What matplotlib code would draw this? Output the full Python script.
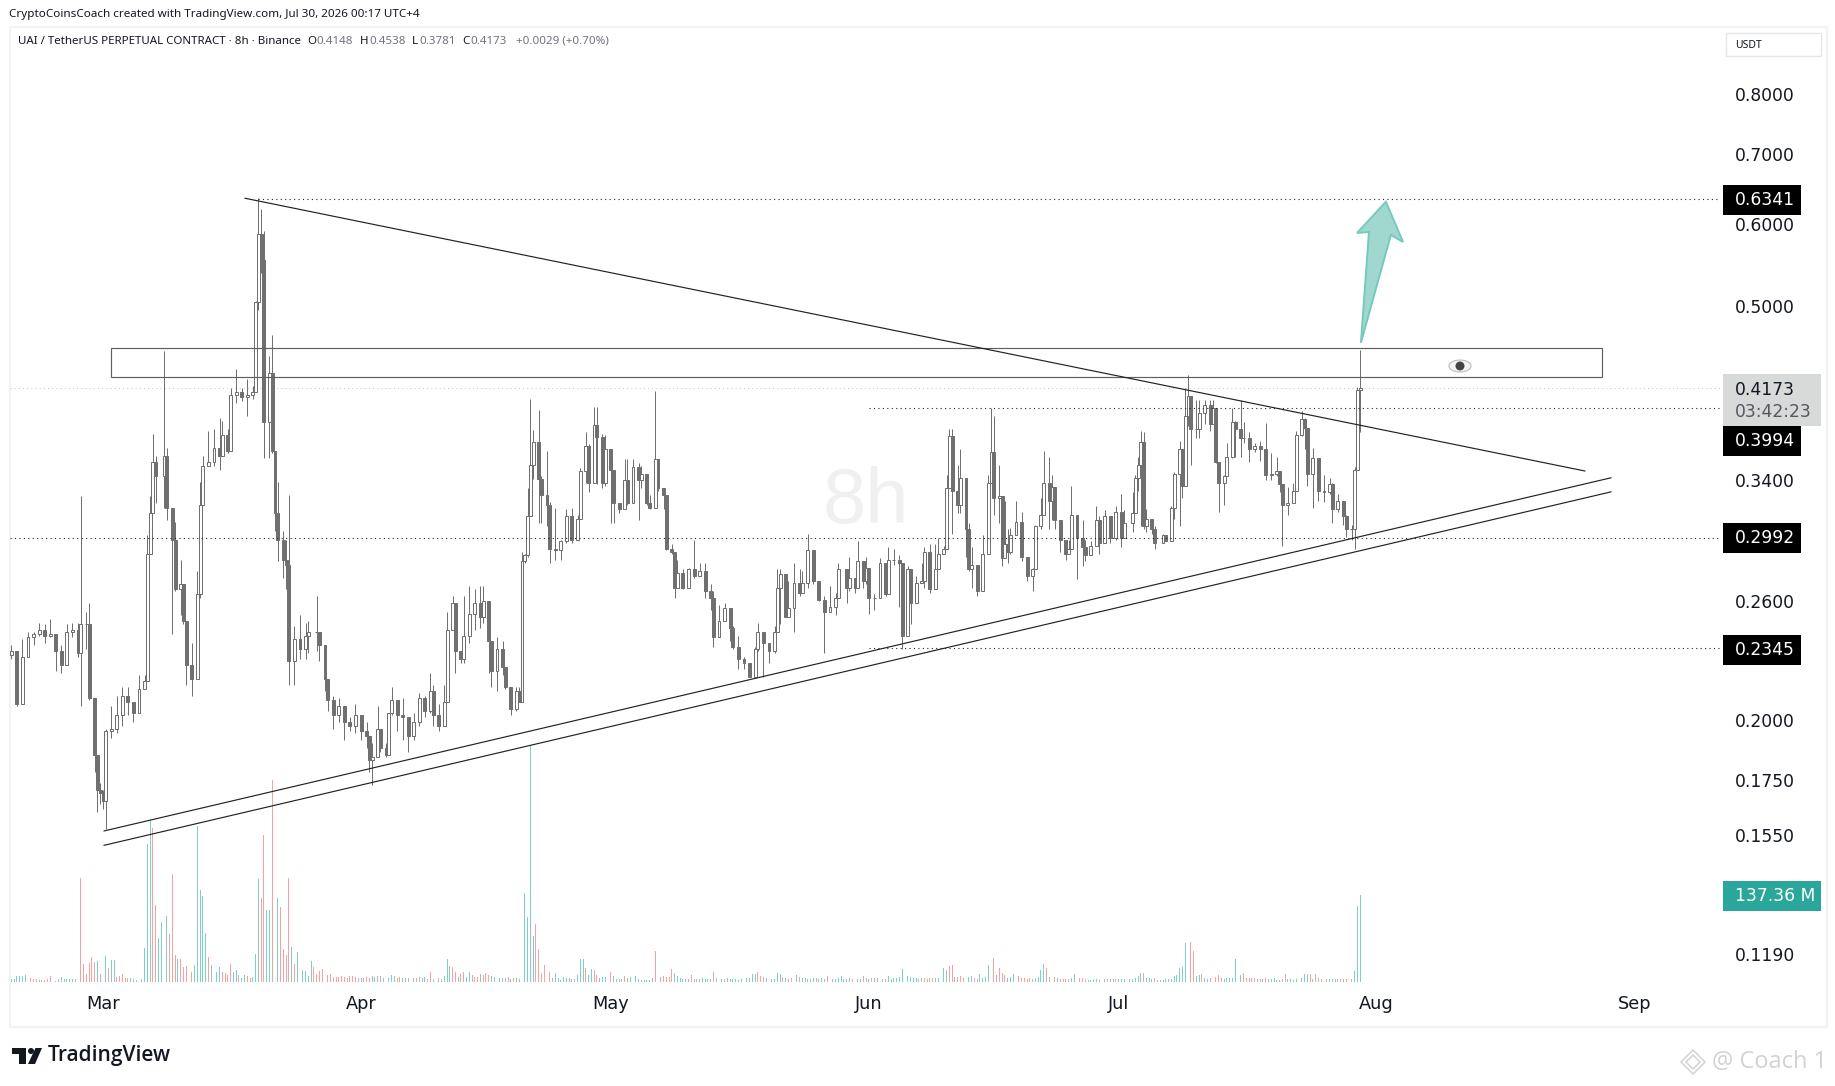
import numpy as np
import matplotlib
matplotlib.use("Agg")
import matplotlib.pyplot as plt
from matplotlib.patches import Rectangle, Polygon, Ellipse

# 8h bar number counted from 1 Mar (not every bar)
bar_no = [
    -33, -31, -29, -27, -25, -23, -21, -19, -17, -15,
    -13, -11, -9, -8, -6, -5, -3, -2, -1, 0,
    1, 3, 5, 7, 9, 11, 13, 15, 16, 17,
    18, 19, 22, 23, 25, 26, 28, 29, 30, 32,
    34, 35, 36, 38, 40, 42, 43, 45, 46, 48,
    50, 52, 54, 55, 56, 57, 58, 60, 61, 62,
    63, 65, 66, 67, 69, 71, 73, 74, 77, 78,
    80, 81, 83, 85, 87, 89, 91, 93, 95, 96,
    97, 99, 100, 102, 103, 104, 106, 108, 110, 112,
    114, 116, 118, 119, 121, 123, 124, 126, 127, 129,
    130, 132, 134, 136, 137, 139, 140, 142, 144, 145,
    147, 149, 150, 151, 152, 153, 154, 155, 157, 158,
    160, 161, 163, 165, 167, 169, 171, 172, 174, 175,
    177, 178, 180, 181, 183, 184, 186, 188, 189, 191,
    193, 194, 196, 197, 199, 200, 202, 203, 205, 206,
    207, 209, 211, 213, 215, 217, 219, 220, 222, 224,
    226, 227, 229, 231, 233, 235, 236, 238, 240, 242,
    243, 244, 246, 247, 249, 251, 252, 254, 256, 258,
    260, 262, 264, 265, 268, 269, 271, 272, 274, 275,
    276, 278, 280, 282, 283, 285, 287, 288, 290, 291,
    293, 295, 296, 298, 300, 301, 303, 304, 305, 306,
    308, 309, 311, 312, 313, 315, 317, 319, 320, 321,
    323, 324, 325, 326, 327, 329, 331, 333, 335, 336,
    338, 339, 341, 342, 343, 345, 347, 348, 349, 351,
    353, 354, 356, 358, 359, 361, 363, 365, 367, 368,
    371, 372, 373, 374, 375, 376, 378, 379, 382, 383,
    385, 386, 388, 389, 390, 391, 392, 394, 395, 397,
    399, 400, 401, 402, 404, 405, 407, 408, 410, 411,
    413, 415, 417, 419, 421, 423, 424, 425, 427, 429,
    430, 432, 433, 434, 436, 438, 440, 442, 443, 445,
    447, 448, 450, 451, 452, 453,
]
first_open = 0.231
close = [
    .233, .207, .230, .240, .242, .244, .241, .242, .233, .226,
    .243, .244, .232, .247, .247, .210, .185, .171, .170, .167,
    .195, .196, .202, .211, .208, .203, .214, .218, .289, .316,
    .354, .343, .359, .320, .298, .267, .270, .249, .226, .219,
    .264, .322, .351, .354, .365, .359, .376, .363, .411, .413,
    .409, .411, .413, .505, .587, .554, .387, .431, .363, .316,
    .298, .285, .282, .228, .239, .234, .241, .243, .243, .236,
    .219, .209, .202, .206, .199, .197, .202, .195, .193, .183,
    .184, .196, .188, .185, .203, .209, .202, .201, .193, .199,
    .210, .204, .213, .202, .197, .208, .244, .259, .233, .229,
    .241, .253, .259, .251, .260, .238, .223, .234, .225, .215,
    .205, .213, .208, .284, .288, .314, .352, .370, .341, .329,
    .322, .292, .291, .297, .314, .298, .312, .347, .367, .338,
    .384, .374, .338, .364, .348, .323, .319, .340, .323, .350,
    .340, .345, .323, .320, .356, .334, .329, .292, .290, .268,
    .277, .268, .279, .275, .278, .266, .262, .240, .249, .256,
    .245, .235, .229, .227, .220, .234, .243, .237, .233, .243,
    .268, .276, .251, .256, .271, .265, .271, .291, .272, .261,
    .254, .257, .262, .279, .268, .274, .268, .284, .272, .280,
    .262, .262, .283, .264, .285, .285, .283, .241, .279, .259,
    .271, .272, .290, .267, .279, .289, .292, .334, .375, .332,
    .322, .342, .305, .279, .282, .266, .289, .338, .362, .327,
    .328, .286, .295, .290, .301, .310, .287, .275, .279, .307,
    .315, .338, .325, .335, .311, .298, .289, .292, .315, .299,
    .293, .288, .294, .311, .296, .314, .299, .317, .299, .309,
    .316, .342, .352, .370, .307, .312, .305, .296, .301, .297,
    .320, .345, .364, .336, .392, .410, .381, .381, .395, .402,
    .385, .399, .354, .338, .343, .358, .387, .381, .373, .373,
    .364, .367, .364, .344, .345, .347, .337, .322, .323, .332,
    .376, .389, .382, .345, .357, .332, .331, .337, .319, .325,
    .314, .305, .305, .348, .4148, .4173,
]
high = [
    .236, .223, .239, .243, .243, .248, .247, .250, .241, .236,
    .247, .248, .248, .328, .254, .259, .210, .185, .174, .171,
    .196, .206, .211, .215, .215, .208, .221, .221, .301, .328,
    .377, .359, .453, .365, .320, .310, .285, .254, .249, .237,
    .278, .339, .359, .379, .381, .390, .388, .381, .417, .435,
    .417, .425, .419, .506, .636, .620, .590, .448, .469, .347,
    .339, .304, .298, .329, .246, .252, .248, .249, .263, .241,
    .236, .217, .211, .210, .203, .201, .207, .198, .199, .193,
    .190, .206, .196, .190, .203, .215, .208, .210, .201, .203,
    .212, .211, .222, .216, .207, .216, .254, .263, .259, .232,
    .263, .269, .267, .269, .269, .256, .238, .240, .238, .225,
    .215, .215, .215, .290, .289, .334, .407, .380, .397, .343,
    .363, .324, .320, .298, .319, .320, .315, .349, .378, .368,
    .400, .400, .377, .376, .364, .348, .323, .356, .356, .356,
    .353, .351, .335, .329, .414, .356, .334, .315, .295, .290,
    .285, .279, .280, .298, .283, .283, .270, .266, .258, .259,
    .248, .246, .241, .230, .227, .235, .248, .243, .234, .246,
    .279, .279, .269, .272, .283, .279, .278, .302, .291, .271,
    .263, .269, .265, .283, .274, .287, .274, .297, .278, .287,
    .274, .264, .286, .275, .293, .292, .288, .265, .281, .279,
    .275, .283, .293, .295, .295, .299, .294, .344, .381, .381,
    .352, .364, .340, .309, .293, .273, .301, .344, .399, .392,
    .352, .313, .325, .305, .306, .325, .317, .287, .280, .308,
    .327, .363, .358, .344, .335, .311, .298, .298, .336, .311,
    .311, .298, .297, .321, .314, .318, .314, .321, .330, .318,
    .331, .344, .358, .379, .378, .319, .307, .307, .302, .301,
    .321, .346, .371, .364, .417, .429, .410, .406, .406, .406,
    .406, .406, .392, .354, .344, .369, .399, .388, .406, .387,
    .378, .369, .371, .386, .361, .358, .345, .332, .335, .338,
    .379, .396, .390, .365, .365, .353, .344, .342, .338, .330,
    .320, .315, .308, .350, .418, .4538,
]
low = [
    .229, .206, .207, .236, .236, .241, .237, .240, .223, .222,
    .238, .240, .230, .206, .234, .209, .178, .163, .166, .164,
    .157, .192, .194, .197, .202, .199, .203, .214, .218, .289,
    .316, .323, .320, .311, .242, .266, .252, .247, .216, .211,
    .250, .262, .331, .353, .351, .348, .367, .361, .363, .403,
    .405, .392, .407, .413, .496, .538, .357, .357, .361, .304,
    .284, .274, .267, .216, .216, .229, .229, .232, .233, .228,
    .213, .204, .196, .199, .191, .195, .194, .191, .188, .178,
    .173, .186, .186, .184, .185, .202, .195, .191, .186, .191,
    .197, .201, .203, .197, .195, .201, .216, .244, .222, .227,
    .227, .237, .244, .245, .248, .222, .215, .213, .221, .214,
    .202, .204, .208, .213, .283, .287, .314, .341, .309, .309,
    .307, .283, .285, .285, .296, .296, .298, .323, .338, .331,
    .338, .337, .334, .336, .309, .309, .316, .319, .322, .339,
    .311, .334, .322, .319, .341, .332, .319, .291, .289, .262,
    .270, .267, .271, .274, .275, .262, .255, .235, .240, .249,
    .238, .234, .224, .224, .220, .223, .233, .220, .227, .232,
    .243, .247, .251, .253, .243, .263, .267, .268, .270, .260,
    .232, .254, .252, .268, .259, .266, .265, .272, .268, .270,
    .253, .255, .275, .263, .275, .282, .257, .234, .258, .247,
    .265, .271, .268, .265, .267, .283, .289, .314, .334, .302,
    .316, .316, .287, .278, .268, .263, .272, .298, .338, .315,
    .309, .281, .290, .283, .289, .301, .284, .272, .266, .280,
    .305, .325, .305, .311, .305, .290, .285, .289, .292, .273,
    .281, .284, .291, .296, .289, .298, .296, .298, .293, .305,
    .303, .316, .332, .307, .305, .303, .302, .292, .297, .297,
    .301, .312, .307, .327, .336, .383, .352, .373, .373, .385,
    .379, .390, .353, .317, .322, .344, .357, .358, .358, .369,
    .354, .362, .355, .340, .340, .343, .331, .294, .315, .325,
    .348, .375, .364, .336, .320, .325, .324, .330, .309, .317,
    .308, .300, .298, .292, .348, .3781,
]

# volume in millions per 8h bar, negative means a red bar
vol_feb = [5, 5, 10, 10, 10, 11, -7, -6, -5, -4, 3, 3, -3, -4, -10, 5, 2, -4, 8, 4, 5, 5, 5, 5, 9,
           -164, -28, -13, -30, -40, -32, 33, -13]
vol_mar = [-11, 41, -22, 34, 35, -8, -10, -13, -6, -6, 6, -5, 3, 9, 4, 54, 218, 256, -243, -122,
           70, 94, -256, 104, -76, -171, -43, 36, -36, -24, -25, 28, -15, 27, 246, 145, 136, 78, -40, 27,
           -17, 16, 24, -15, -14, -11, -28, 16, 19, -11, 7, 11, -9, -6, 8, 44, 163, -133, -232, 114,
           113, -319, 160, 133, -119, -52, -43, -164, 55, -28, 48, 19, 19, 17, 9, 33, -24, -13, -17, -21,
           -8, -11, -13, -8, -8, -8, -9, -8, -7, -10, -9, -8, -6]
vol_apr = [6, -7, -8, -6, 9, 8, -10, 9, -6, -5, 7, 11, 9, -7, -8, 7, 6, -6, 5, 7, 6, -8, 6, 8, -5,
           -15, 5, -6, -6, 5, 10, 36, 26, -24, -15, 8, -12, -15, 8, 16, -11, -8, -8, 12, -11, -14, -11,
           9, 8, -9, 6, -6, 6, -8, 4, -7, 6, 5, 72, 141, 103, 374, 73, -92, -52, -14, -27, 18, -16, 7,
           14, 6, 3, 8, 7, 6, 5, -5, 11, 36, 36, -22, 11, 21, -19, -11, 6, 8, 8, -6]
vol_may = [-16, 10, 5, -5, 5, -10, 6, 8, 6, 10, 5, 3, 3, 3, 3, 6, -49, -14, -8, -10, -8, -8, -21, 14,
           10, 7, 5, 5, 5, -11, 5, -5, 5, 6, 5, 5, 5, -16, 6, 5, 5, -4, 6, 5, 4, 4, 3, 5, 4, 6, 6, 13,
           13, -16, -10, -8, 6, 6, 5, 5, 14, 13, -8, 6, 5, -6, -7, 11, -8, 6, 7, -5, 5, 7, -7, 5, 6, 5,
           -9, -6, 5, 5, 7, 9, 5, 5, 6, -5, 5, 5, 5, -9, -7]
vol_jun = [5, -6, 6, -6, -7, 5, -5, 9, 5, 6, 7, 8, 20, 11, 10, 8, 6, 6, 5, 7, -6, -5, -6, -6, 7, 6, 5,
           22, 19, -25, -27, 8, -8, -10, -6, -16, 8, 9, -6, -5, 12, 6, 8, 27, 111, -38, 11, -22, -14,
           -11, 6, 8, 12, -9, -9, -6, -7, -5, -7, -5, 6, 8, 19, 28, -22, 8, 9, -8, 6, -5, -5, -4, -4, 7,
           12, 5, -7, -7, -5, 3, 3, 5, 5, 3, 4, -4, -4, 5, -5, -5]
vol_jul = [4, 4, 5, -5, 4, 5, 6, 10, 14, -14, 6, 6, 5, -7, 3, 3, 3, 4, 4, 5, 10, 11, 22, 24, 62, 27,
           -63, -49, 10, 11, -13, 6, 5, -6, 6, -8, -11, -6, 5, 7, 6, 6, 36, -7, 11, -14, -7, -6, -7, -6,
           -5, -5, 4, -6, 5, 4, 6, 3, 3, 5, -12, 5, 4, 3, 4, 6, 7, 12, 13, -13, 5, -13, -7, 5, -6, -5, 4,
           5, -4, 5, -4, 4, -4, 5, -4, 17, 120, 137.36]
vol_starts = [-33, 0, 93, 183, 276, 366]

month_bars = [0, 93, 183, 276, 366, 459, 552]
month_names = ['Mar', 'Apr', 'May', 'Jun', 'Jul', 'Aug', 'Sep']
price_ticks = [0.8, 0.7, 0.6, 0.5, 0.34, 0.26, 0.2, 0.175, 0.155, 0.119]

# drawings on the chart as (bar, price)
falling_line = ([51.2, 534.0], [0.635, 0.347])
rising_line_1 = ([0.4, 543.4], [0.1563, 0.3418])
rising_line_2 = ([0.4, 543.4], [0.1514, 0.3313])
zone_bars = [2.9, 540.2]
zone_prices = [0.4274, 0.4558]
arrow_bars = [462.3, 468.5, 464.1, 453.3, 456.2, 451.9]
arrow_prices = [0.6301, 0.5764, 0.5854, 0.4609, 0.5893, 0.5880]
level_prices = [0.6341, 0.3994, 0.2992, 0.2345]
level_starts = [56, 276, -33.5, 276]
last_price = 0.4173

W, H = 1835, 1086
TEAL = '#7fcfc4'
RED = '#f7a1a1'
TEXT = '#131722'
GRAY = '#6f737c'


def fx(x):
    return x / W


def fy(y):
    return 1 - y / H


def add_box(x0, y0, x1, y1, **kw):
    box = Rectangle((fx(x0), fy(y1)), fx(x1 - x0), (y1 - y0) / H,
                    transform=fig.transFigure, **kw)
    fig.add_artist(box)
    return box


def label(x, y, s, **kw):
    kw.setdefault('va', 'center')
    kw.setdefault('color', TEXT)
    return fig.text(fx(x), fy(y), s, **kw)


fig = plt.figure(figsize=(W / 100, H / 100), dpi=100, facecolor='white')

# pane spans px 10..1720 across, 28..985 down
vol_ax = fig.add_axes([fx(10), fy(982), fx(1710), 237 / H], zorder=1)
ax = fig.add_axes([fx(10), fy(985), fx(1710), 957 / H], zorder=2)
ax.patch.set_visible(False)

# volume
vol_months = [vol_feb, vol_mar, vol_apr, vol_may, vol_jun, vol_jul]
vol = np.concatenate(vol_months, dtype=float)
vol_x = np.concatenate([np.arange(s, s + len(m)) for s, m in zip(vol_starts, vol_months)])
vol_ax.bar(vol_x, np.abs(vol), width=0.33, linewidth=0,
           color=[TEAL if v > 0 else RED for v in vol])
vol_ax.set_ylim(0, 374)
vol_ax.axis('off')

# candles
bars = np.array(bar_no)
c = np.array(close)
o = np.concatenate([[first_open], c[:-1]])
h = np.array(high)
l = np.array(low)
is_up = c >= o
ax.vlines(bars, l, h, color='#707070', linewidth=0.72, zorder=2)
ax.bar(bars, np.abs(c - o), bottom=np.minimum(o, c), width=1.05, zorder=3,
       color=['white' if u else '#707070' for u in is_up], edgecolor='#707070', linewidth=0.72)

# levels and trend lines
ax.hlines(last_price, -33.5, 583, color='#c9c9c9', linewidth=0.75, linestyle=(0, (1, 3)), zorder=1)
for price, start in zip(level_prices, level_starts):
    ax.hlines(price, start, 583, color='#222222', linewidth=0.8, linestyle=(0, (1, 3)), zorder=4)
for xs, ys in (falling_line, rising_line_1, rising_line_2):
    ax.plot(xs, ys, color='#222222', linewidth=0.85, zorder=5)
ax.add_patch(Rectangle((zone_bars[0], zone_prices[0]), zone_bars[1] - zone_bars[0],
                       zone_prices[1] - zone_prices[0], fill=False, edgecolor='#5f5f5f',
                       linewidth=0.85, zorder=4))
ax.add_patch(Polygon(list(zip(arrow_bars, arrow_prices)), closed=True, facecolor='#a0d8cf',
                     edgecolor='#74cabd', linewidth=1.4, zorder=5))

ax.set_yscale('log')
ax.set_xlim(-33.5, 582.7)
ax.set_ylim(0.1111, 0.926)
vol_ax.set_xlim(-33.5, 582.7)
ax.set_yticks(price_ticks)
ax.set_yticklabels(['%.4f' % p for p in price_ticks])
ax.minorticks_off()
ax.yaxis.tick_right()
ax.set_xticks(month_bars)
ax.set_xticklabels(month_names)
ax.tick_params(axis='y', length=0, pad=10.4, labelsize=12.3, labelcolor=TEXT)
ax.tick_params(axis='x', length=0, pad=7, labelsize=12.8, labelcolor=TEXT)
for side in ax.spines.values():
    side.set_visible(False)

# pane frame and watermark
add_box(10, 27, 1827, 1027, fill=False, edgecolor='#f0f3fa', linewidth=1.6, zorder=0)
label(866, 503, '8h', family='Liberation Sans', fontsize=56, color='#f0f0f0', ha='center', zorder=0)

# header
label(9, 14, 'CryptoCoinsCoach created with TradingView.com, Jul 30, 2026 00:17 UTC+4',
      family='Noto Sans', fontsize=8.4)
label(18, 41, 'UAI / TetherUS PERPETUAL CONTRACT · 8h · Binance', family='Noto Sans', fontsize=8.3)
for x, key, val, gap in ((307, 'O', '0.4148', 9), (360, 'H', '0.4538', 9),
                         (412, 'L', '0.3781', 7), (462, 'C', '0.4173', 8)):
    label(x, 41, key, family='Noto Sans', fontsize=8.3)
    label(x + gap, 41, val, family='Noto Sans', fontsize=8.3, color=GRAY)
label(516, 41, '+0.0029 (+0.70%)', family='Noto Sans', fontsize=8.3, color=GRAY)

# price scale boxes
add_box(1726, 33, 1821, 56, facecolor='white', edgecolor='#e4e6ec', linewidth=1, zorder=6)
label(1735, 45, 'USDT', family='Noto Sans', fontsize=7.5, zorder=7)
for y, s in ((200, '0.6341'), (441, '0.3994'), (538, '0.2992'), (650, '0.2345')):
    add_box(1723, y - 15, 1801, y + 15, facecolor='black', edgecolor='none', zorder=6)
    label(1735, y, s, color='white', fontsize=12.3, zorder=7)
add_box(1723, 374, 1821, 426, facecolor='#d8dad9', edgecolor='none', zorder=5)
label(1735, 390, '0.4173', fontsize=12.3, zorder=7)
label(1735, 412, '03:42:23', fontsize=12.3, color='#55585f', zorder=7)
add_box(1723, 881, 1821, 911, facecolor='#2aa79a', edgecolor='none', zorder=6)
label(1735, 896, '137.36 M', color='white', fontsize=12.3, zorder=7)

# eye marker in the zone
fig.add_artist(Ellipse((fx(1460), fy(366)), 22 / W, 12 / H, transform=fig.transFigure,
                       facecolor='#f4f4f4', edgecolor='#bdbdbd', linewidth=0.8, zorder=6))
fig.add_artist(Ellipse((fx(1460), fy(366)), 9 / W, 9 / H, transform=fig.transFigure,
                       facecolor='#444444', edgecolor='none', zorder=7))

# footer logo
logo = '#131722'
fig.add_artist(Polygon([(fx(12), fy(1048)), (fx(26), fy(1048)), (fx(26), fy(1064)), (fx(19), fy(1064)),
                        (fx(19), fy(1054)), (fx(12), fy(1054))], transform=fig.transFigure,
                       facecolor=logo, edgecolor='none', zorder=6))
fig.add_artist(Ellipse((fx(31), fy(1051)), 6 / W, 6 / H, transform=fig.transFigure,
                       facecolor=logo, edgecolor='none', zorder=6))
fig.add_artist(Polygon([(fx(35.5), fy(1048)), (fx(42), fy(1048)), (fx(35), fy(1064)), (fx(28), fy(1064))],
                       transform=fig.transFigure, facecolor=logo, edgecolor='none', zorder=6))
label(48, 1056, 'TradingView', family='Open Sans', fontsize=15, fontweight='semibold', zorder=6)

# repost mark bottom right
for r in (12, 7):
    fig.add_artist(Polygon([(fx(1693), fy(1062 - r)), (fx(1693 + r), fy(1062)), (fx(1693), fy(1062 + r)),
                            (fx(1693 - r), fy(1062))], closed=True, fill=False, transform=fig.transFigure,
                           edgecolor='#d5d5d5', linewidth=1.2, zorder=6))
label(1712, 1062, '@ Coach 1', family='Open Sans', fontsize=17, color='#d2d2d2', zorder=6)

fig.savefig('out.png', dpi=100, facecolor='white')
